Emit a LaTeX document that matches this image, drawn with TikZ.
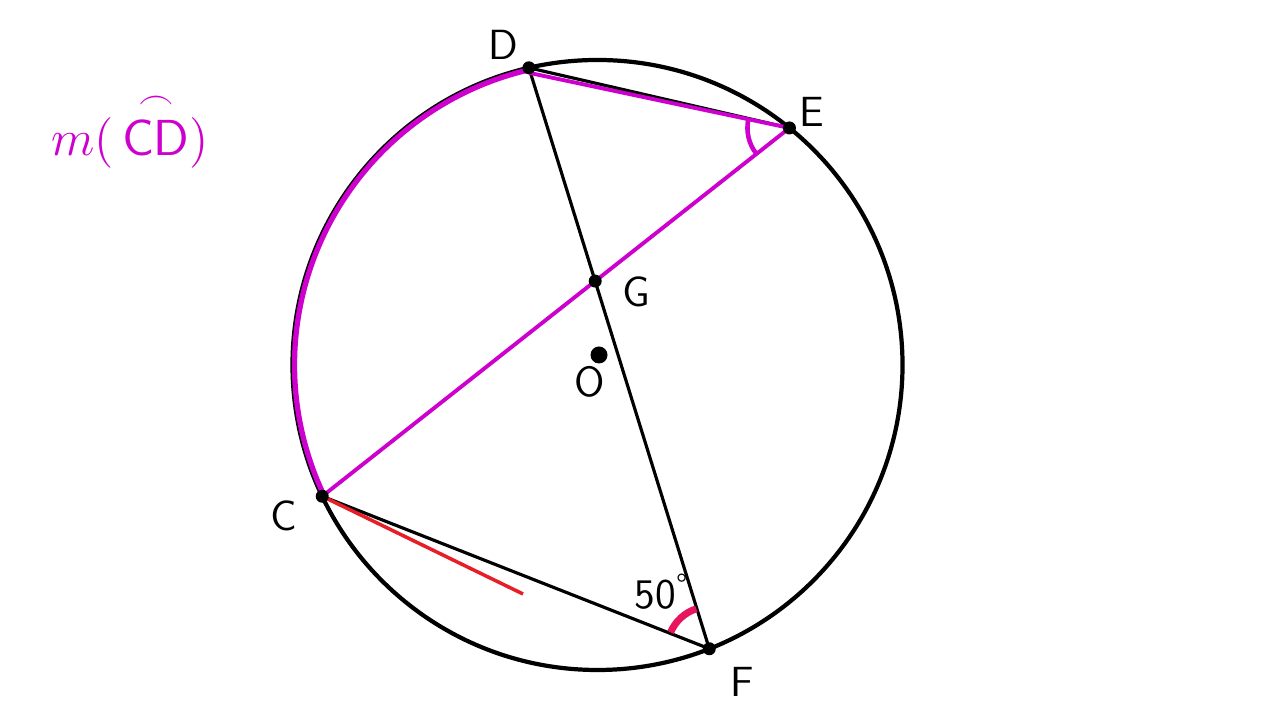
\documentclass[tikz,border=0pt]{standalone}
\usepackage{amsmath}
\usepackage{tikz}
\usetikzlibrary{calc}
\definecolor{mag}{RGB}{205,0,205}
\definecolor{pinkred}{RGB}{232,20,95}
\definecolor{redline}{RGB}{230,30,40}

\begin{document}
\begin{tikzpicture} [pt/.style={circle,fill=black,inner sep=0pt,minimum size=1.3mm},
       lbl/.style={font=\sffamily\large},
       seg/.style={line width=0.9pt},
       magseg/.style={mag,line width=1.1pt}]
       \useasboundingbox (0,0) rectangle (12.8,7.2);
       \coordinate (O) at (5.975,3.55);
       \coordinate (D) at ($(O)+(103:3.05)$);
       \coordinate (E) at ($(O)+(51:3.05)$);
       \coordinate (C) at ($(O)+(205.5:3.05)$);
       \coordinate (F) at ($(O)+(-68.5:3.05)$);
       \coordinate (G) at (intersection of D--F and C--E);
       \coordinate (R) at (5.23,1.26);
       \draw [line width=1.2pt] (O) circle (3.05);
       \draw [seg] (D) -- (F);
       \draw [seg] (C) -- (F);
       \draw [seg] (D) -- (E);
       \draw [redline,line width=1pt] (C) -- (R);
       % arc CD
       \draw [mag,line width=1.5pt] ($(O)+(103:3.03)$) arc (103:205.5:3.03);
       \draw [magseg] ([yshift=-0.5mm]D) -- (E);
       \draw [magseg] (C) -- (E);
       \draw [mag,line width=1.3pt] ($(E)+(167:0.42)$) arc (167:218:0.42);
       \draw [pinkred,line width=2pt] ($(F)+(108:0.42)$) arc (108:157:0.42);
       \foreach \p in {D,E,C,F,G} \node [pt] (dot\p) at (\p) {};
       \node [pt,minimum size=1.7mm] (Odot) at (5.99,3.65) {};
       \node [lbl] (labD) at (5.03,6.75) {D};
       \node [lbl] (labE) at (8.12,6.08) {E};
       \node [lbl] (labC) at (2.84,2.04) {C};
       \node [lbl] (labF) at (7.42,0.38) {F};
       \node [lbl] (labG) at (6.36,4.28) {G};
       \node [lbl] (labO) at (5.90,3.38) {O};
       \node [lbl] (lab50) at (6.62,1.28) {50\textsuperscript{\textdegree}};
       \node [mag,font=\Large] (title) at (1.30,5.90) {$m(\,\overset{\frown}{\mathsf{CD}})$};
    \end{tikzpicture}
\end{document}
